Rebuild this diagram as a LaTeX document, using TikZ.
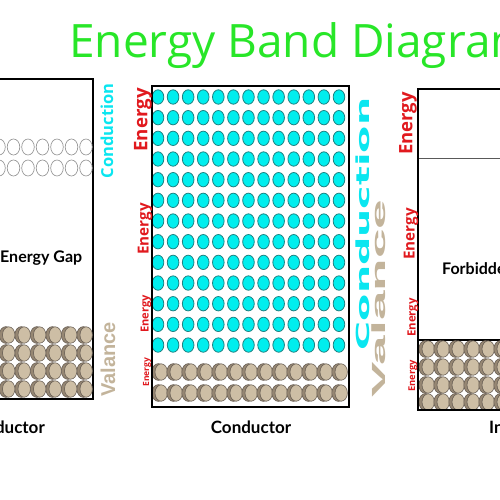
\documentclass[tikz,border=0pt]{standalone}
\usepackage{fontspec}
\newfontfamily\titlefont{Open Sans}
\newfontfamily\osb{Open Sans}[FakeBold=0]
\newfontfamily\latob{Lato Bold}
\newfontfamily\dvb{DejaVu Sans Bold}
\newfontfamily\libb{Liberation Sans Bold}
\definecolor{titlegreen}{RGB}{40,230,40}
\definecolor{ered}{RGB}{225,25,30}
\definecolor{cyanfill}{RGB}{0,238,238}
\definecolor{cyanedge}{RGB}{30,130,130}
\definecolor{condcyan}{RGB}{10,230,240}
\definecolor{tanfill}{RGB}{205,190,165}
\definecolor{tandark}{RGB}{150,135,115}
\definecolor{tanedge}{RGB}{105,95,85}
\definecolor{valtan}{RGB}{195,180,155}
\tikzset{
  boxline/.style={draw=black,line width=1.6pt},
  cyancirc/.style={fill=cyanfill,draw=cyanedge,line width=0.8pt},
  hollowcirc/.style={draw=gray!80,line width=0.7pt},
  tanback/.style={fill=tandark,draw=tanedge,line width=0.6pt},
  tanfront/.style={fill=tanfill,draw=tanedge,line width=0.6pt},
  energylbl/.style={text=ered,font=\bfseries\fontspec{Open Sans Bold},inner sep=0pt,rotate=90},
  botlbl/.style={font=\latob,text=black,inner sep=0pt},
}
\newcommand{\tancirc}[2]{%
  \filldraw[tanback] (#1-1.6,#2) ellipse (6.6pt and 8.4pt);
  \filldraw[tanfront] (#1+1.2,#2) ellipse (6.2pt and 8.2pt);}
\begin{document}
\begin{tikzpicture}[x=1pt,y=-1pt]
\useasboundingbox (0,0) rectangle (500,500);
\clip (0,0) rectangle (500,500);
\fill[white] (0,0) rectangle (500,500);

% title
\node[anchor=base west,inner sep=0pt,text=titlegreen,font=\titlefont\fontsize{46}{50}\selectfont] (title) at (69,58) {Energy Band Diagram};

% ---------- left panel (semiconductor) ----------
\draw[boxline] (-10,79) -- (93,79) -- (93,399) -- (-10,399);
\foreach \r in {147,168} {
  \foreach \k in {0,...,6} {
    \draw[hollowcirc] (86-14.5*\k,\r) ellipse (6.3pt and 8pt);
  }
}
\foreach \r in {335,353,371,389} {
  \foreach \k in {0,...,6} {
    \tancirc{85-15.5*\k}{\r}
  }
}
\node[anchor=base west,inner sep=0pt,font=\latob\fontsize{16}{18}\selectfont] (gapL) at (0,262) {Energy Gap};
\node[anchor=base,rotate=90,inner sep=0pt,text=condcyan,font=\fontspec{Open Sans Bold}\fontsize{16.5}{18}\selectfont] (condL) at (113,131) {Conduction};
\node[anchor=base,rotate=90,inner sep=0pt,text=valtan,font=\libb\fontsize{20}{22}\selectfont] (valL) at (115,359.5) {Valance};
\node[botlbl,anchor=base east,font=\latob\fontsize{17}{19}\selectfont] (semi) at (45,433) {Semiconductor};

% ---------- middle panel (conductor) ----------
\foreach \j in {0,...,12} {
  \foreach \i in {0,...,12} {
    \draw[cyancirc] (158+15.08*\i,97+20.67*\j) ellipse (5.8pt and 7.2pt);
  }
}
\foreach \r in {372,393} {
  \foreach \i in {0,...,12} {
    \tancirc{160+15*\i}{\r}
  }
}
\draw[boxline] (152,86) rectangle (349,407);
\node[energylbl,font=\fontspec{Open Sans Bold}\fontsize{18.7}{20}\selectfont] (em1) at (143,120) {Energy};
\node[energylbl,font=\fontspec{Open Sans Bold}\fontsize{15.2}{17}\selectfont] (em2) at (145,229) {Energy};
\node[energylbl,font=\fontspec{Open Sans Bold}\fontsize{11.1}{13}\selectfont] (em3) at (146,314) {Energy};
\node[energylbl,font=\fontspec{Open Sans Bold}\fontsize{8.5}{10}\selectfont] (em4) at (147,372) {Energy};
\node[anchor=base,rotate=90,inner sep=0pt,text=condcyan,font=\dvb\fontsize{18}{20}\selectfont] (condM) at (369,224) {\scalebox{2.2}[1]{Conduction}};
\node[anchor=base,rotate=90,inner sep=0pt,text=valtan,font=\libb\fontsize{19}{21}\selectfont] (valM) at (385,298.5) {\scalebox{2.8}[1]{Valance}};
\node[botlbl,anchor=base,font=\latob\fontsize{17}{19}\selectfont] (cond) at (251,433) {Conductor};

% ---------- right panel (insulator) ----------
\draw[draw=gray!70!black,line width=1pt] (418,158) -- (520,158);
\draw[draw=black,line width=1.2pt] (418,340) -- (520,340);
\foreach \r in {349,367,385,402} {
  \foreach \k in {0,...,6} {
    \tancirc{427+15*\k}{\r}
  }
}
\draw[boxline] (520,89) -- (418,89) -- (418,410) -- (520,410);
\node[energylbl,font=\fontspec{Open Sans Bold}\fontsize{18.5}{20}\selectfont] (er1) at (408,123.5) {Energy};
\node[energylbl,font=\fontspec{Open Sans Bold}\fontsize{15.2}{17}\selectfont] (er2) at (411,234) {Energy};
\node[energylbl,font=\fontspec{Open Sans Bold}\fontsize{11.4}{13}\selectfont] (er3) at (413,317.5) {Energy};
\node[energylbl,font=\fontspec{Open Sans Bold}\fontsize{9.4}{11}\selectfont] (er4) at (413,376) {Energy};
\node[anchor=base west,inner sep=0pt,font=\latob\fontsize{16}{18}\selectfont] (forb) at (442,274) {Forbidden};
\node[botlbl,anchor=base west,font=\latob\fontsize{17}{19}\selectfont] (ins) at (489,433) {Insulator};
\end{tikzpicture}
\end{document}
